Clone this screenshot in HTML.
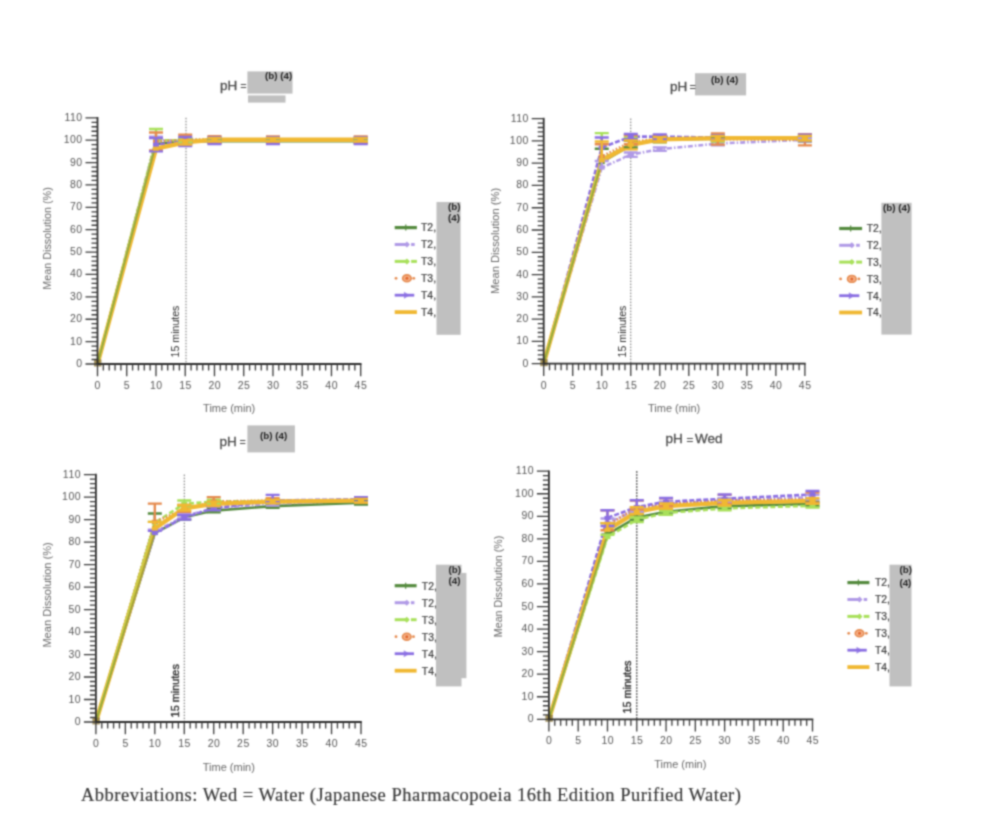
<!DOCTYPE html><html><head><meta charset="utf-8"><title>Dissolution profiles</title><style>
html,body{margin:0;padding:0;background:#fff;}body{width:999px;height:819px;overflow:hidden;position:relative;}
svg{position:absolute;left:0;top:0;display:block;}
</style></head><body>
<svg width="999" height="819" viewBox="0 0 999 819" font-family="'Liberation Sans', Arial, sans-serif">
<defs><filter id="soft" x="0" y="0" width="999" height="819" filterUnits="userSpaceOnUse" color-interpolation-filters="sRGB"><feConvolveMatrix order="5" kernelMatrix="0.00023 0.00332 0.00809 0.00332 0.00023 0.00332 0.04785 0.11640 0.04785 0.00332 0.00809 0.11640 0.28313 0.11640 0.00809 0.00332 0.04785 0.11640 0.04785 0.00332 0.00023 0.00332 0.00809 0.00332 0.00023" edgeMode="duplicate" preserveAlpha="true"/></filter></defs>
<g filter="url(#soft)">
<rect width="999" height="819" fill="#ffffff"/>
<g>
<line x1="186.00" y1="117.80" x2="186.00" y2="364.00" stroke="#6a6a6a" stroke-width="1" stroke-dasharray="1.5,1.5"/>
<polyline points="97.50,364.00 155.99,143.99 185.23,141.08 214.48,141.30 272.97,141.30 360.70,141.30" fill="none" stroke="#548a3e" stroke-width="2.6" stroke-linejoin="round"/>
<polyline points="97.50,364.00 155.99,140.18 185.23,140.63 214.48,140.18 272.97,140.18 360.70,140.18" fill="none" stroke="#b09ae6" stroke-width="2.6" stroke-dasharray="5,2,1.5,2" stroke-linejoin="round"/>
<polyline points="97.50,364.00 155.99,140.18 185.23,140.18 214.48,139.73 272.97,139.73 360.70,139.73" fill="none" stroke="#a8e05a" stroke-width="2.6" stroke-dasharray="5,2.5" stroke-linejoin="round"/>
<polyline points="97.50,364.00 155.99,141.52 185.23,139.73 214.48,139.51 272.97,139.73 360.70,139.73" fill="none" stroke="#e58a4e" stroke-width="2.6" stroke-dasharray="1.5,2" stroke-linejoin="round"/>
<polyline points="97.50,364.00 155.99,144.66 185.23,141.52 214.48,140.63 272.97,140.63 360.70,140.63" fill="none" stroke="#8a6ee2" stroke-width="2.6" stroke-dasharray="5,2" stroke-linejoin="round"/>
<polyline points="97.50,364.00 155.99,148.69 185.23,142.42 214.48,139.73 272.97,139.73 360.70,139.73" fill="none" stroke="#f0b832" stroke-width="4.3" stroke-linejoin="round"/>
<line x1="97.50" y1="364.00" x2="155.99" y2="140.18" stroke="#a8e05a" stroke-width="2.4" opacity="0.45"/>
<line x1="97.50" y1="364.00" x2="155.99" y2="143.99" stroke="#548a3e" stroke-width="1.8" opacity="0.5"/>
<rect x="152.99" y="141.99" width="6" height="4" fill="#548a3e"/>
<path d="M185.23,141.08V138.84M178.23,138.84H192.23M185.23,141.08V143.32M178.23,143.32H192.23" stroke="#548a3e" stroke-width="2.4" fill="none"/>
<rect x="182.23" y="139.08" width="6" height="4" fill="#548a3e"/>
<path d="M214.48,141.30V139.51M207.48,139.51H221.48M214.48,141.30V143.09M207.48,143.09H221.48" stroke="#548a3e" stroke-width="2.4" fill="none"/>
<rect x="211.48" y="139.30" width="6" height="4" fill="#548a3e"/>
<path d="M272.97,141.30V139.51M265.97,139.51H279.97M272.97,141.30V143.09M265.97,143.09H279.97" stroke="#548a3e" stroke-width="2.4" fill="none"/>
<rect x="269.97" y="139.30" width="6" height="4" fill="#548a3e"/>
<path d="M360.70,141.30V139.51M353.70,139.51H367.70M360.70,141.30V143.09M353.70,143.09H367.70" stroke="#548a3e" stroke-width="2.4" fill="none"/>
<rect x="357.70" y="139.30" width="6" height="4" fill="#548a3e"/>
<path d="M155.99,140.18V136.82M148.99,136.82H162.99" stroke="#b09ae6" stroke-width="2.4" fill="none"/>
<rect x="152.99" y="138.18" width="6" height="4" fill="#b09ae6"/>
<path d="M185.23,140.63V138.39M178.23,138.39H192.23M185.23,140.63V142.87M178.23,142.87H192.23" stroke="#b09ae6" stroke-width="2.4" fill="none"/>
<rect x="182.23" y="138.63" width="6" height="4" fill="#b09ae6"/>
<path d="M214.48,140.18V138.39M207.48,138.39H221.48M214.48,140.18V141.97M207.48,141.97H221.48" stroke="#b09ae6" stroke-width="2.4" fill="none"/>
<rect x="211.48" y="138.18" width="6" height="4" fill="#b09ae6"/>
<path d="M272.97,140.18V138.39M265.97,138.39H279.97M272.97,140.18V141.97M265.97,141.97H279.97" stroke="#b09ae6" stroke-width="2.4" fill="none"/>
<rect x="269.97" y="138.18" width="6" height="4" fill="#b09ae6"/>
<path d="M360.70,140.18V138.39M353.70,138.39H367.70M360.70,140.18V141.97M353.70,141.97H367.70" stroke="#b09ae6" stroke-width="2.4" fill="none"/>
<rect x="357.70" y="138.18" width="6" height="4" fill="#b09ae6"/>
<path d="M155.99,140.18V128.99M148.99,128.99H162.99" stroke="#a8e05a" stroke-width="2.4" fill="none"/>
<rect x="152.99" y="138.18" width="6" height="4" fill="#a8e05a"/>
<path d="M185.23,140.18V137.94M178.23,137.94H192.23M185.23,140.18V142.42M178.23,142.42H192.23" stroke="#a8e05a" stroke-width="2.4" fill="none"/>
<rect x="182.23" y="138.18" width="6" height="4" fill="#a8e05a"/>
<path d="M214.48,139.73V137.94M207.48,137.94H221.48M214.48,139.73V141.52M207.48,141.52H221.48" stroke="#a8e05a" stroke-width="2.4" fill="none"/>
<rect x="211.48" y="137.73" width="6" height="4" fill="#a8e05a"/>
<path d="M272.97,139.73V137.94M265.97,137.94H279.97M272.97,139.73V141.52M265.97,141.52H279.97" stroke="#a8e05a" stroke-width="2.4" fill="none"/>
<rect x="269.97" y="137.73" width="6" height="4" fill="#a8e05a"/>
<path d="M360.70,139.73V137.94M353.70,137.94H367.70M360.70,139.73V141.52M353.70,141.52H367.70" stroke="#a8e05a" stroke-width="2.4" fill="none"/>
<rect x="357.70" y="137.73" width="6" height="4" fill="#a8e05a"/>
<path d="M155.99,141.52V132.57M148.99,132.57H162.99M155.99,141.52V150.48M148.99,150.48H162.99" stroke="#e58a4e" stroke-width="2.4" fill="none"/>
<rect x="152.99" y="139.52" width="6" height="4" fill="#e58a4e"/>
<path d="M185.23,139.73V134.81M178.23,134.81H192.23M185.23,139.73V144.66M178.23,144.66H192.23" stroke="#e58a4e" stroke-width="2.4" fill="none"/>
<rect x="182.23" y="137.73" width="6" height="4" fill="#e58a4e"/>
<path d="M214.48,139.51V136.15M207.48,136.15H221.48M214.48,139.51V142.87M207.48,142.87H221.48" stroke="#e58a4e" stroke-width="2.4" fill="none"/>
<rect x="211.48" y="137.51" width="6" height="4" fill="#e58a4e"/>
<path d="M272.97,139.73V136.38M265.97,136.38H279.97M272.97,139.73V143.09M265.97,143.09H279.97" stroke="#e58a4e" stroke-width="2.4" fill="none"/>
<rect x="269.97" y="137.73" width="6" height="4" fill="#e58a4e"/>
<path d="M360.70,139.73V136.38M353.70,136.38H367.70M360.70,139.73V143.09M353.70,143.09H367.70" stroke="#e58a4e" stroke-width="2.4" fill="none"/>
<rect x="357.70" y="137.73" width="6" height="4" fill="#e58a4e"/>
<path d="M155.99,144.66V137.94M148.99,137.94H162.99M155.99,144.66V151.37M148.99,151.37H162.99" stroke="#8a6ee2" stroke-width="2.4" fill="none"/>
<rect x="152.99" y="142.66" width="6" height="4" fill="#8a6ee2"/>
<path d="M185.23,141.52V137.05M178.23,137.05H192.23M185.23,141.52V146.00M178.23,146.00H192.23" stroke="#8a6ee2" stroke-width="2.4" fill="none"/>
<rect x="182.23" y="139.52" width="6" height="4" fill="#8a6ee2"/>
<path d="M214.48,140.63V137.27M207.48,137.27H221.48M214.48,140.63V143.99M207.48,143.99H221.48" stroke="#8a6ee2" stroke-width="2.4" fill="none"/>
<rect x="211.48" y="138.63" width="6" height="4" fill="#8a6ee2"/>
<path d="M272.97,140.63V137.27M265.97,137.27H279.97M272.97,140.63V143.99M265.97,143.99H279.97" stroke="#8a6ee2" stroke-width="2.4" fill="none"/>
<rect x="269.97" y="138.63" width="6" height="4" fill="#8a6ee2"/>
<path d="M360.70,140.63V137.27M353.70,137.27H367.70M360.70,140.63V143.99M353.70,143.99H367.70" stroke="#8a6ee2" stroke-width="2.4" fill="none"/>
<rect x="357.70" y="138.63" width="6" height="4" fill="#8a6ee2"/>
<rect x="152.99" y="146.69" width="6" height="4" fill="#f0b832"/>
<path d="M185.23,142.42V140.18M178.23,140.18H192.23M185.23,142.42V144.66M178.23,144.66H192.23" stroke="#f0b832" stroke-width="2.4" fill="none"/>
<rect x="182.23" y="140.42" width="6" height="4" fill="#f0b832"/>
<path d="M214.48,139.73V137.94M207.48,137.94H221.48M214.48,139.73V141.52M207.48,141.52H221.48" stroke="#f0b832" stroke-width="2.4" fill="none"/>
<rect x="211.48" y="137.73" width="6" height="4" fill="#f0b832"/>
<path d="M272.97,139.73V137.94M265.97,137.94H279.97M272.97,139.73V141.52M265.97,141.52H279.97" stroke="#f0b832" stroke-width="2.4" fill="none"/>
<rect x="269.97" y="137.73" width="6" height="4" fill="#f0b832"/>
<path d="M360.70,139.73V137.94M353.70,137.94H367.70M360.70,139.73V141.52M353.70,141.52H367.70" stroke="#f0b832" stroke-width="2.4" fill="none"/>
<rect x="357.70" y="137.73" width="6" height="4" fill="#f0b832"/>
<rect x="94.00" y="359.50" width="7.5" height="7" fill="#8a7436" opacity="0.75"/>
<line x1="97.50" y1="117.00" x2="97.50" y2="364.80" stroke="#2b2b2b" stroke-width="1.8"/>
<line x1="96.70" y1="364.00" x2="361.50" y2="364.00" stroke="#2b2b2b" stroke-width="1.8"/>
<path d="M85.50,364.00H97.50M91.50,359.52H97.50M91.50,355.05H97.50M91.50,350.57H97.50M91.50,346.09H97.50M85.50,341.62H97.50M91.50,337.14H97.50M91.50,332.67H97.50M91.50,328.19H97.50M91.50,323.71H97.50M85.50,319.24H97.50M91.50,314.76H97.50M91.50,310.28H97.50M91.50,305.81H97.50M91.50,301.33H97.50M85.50,296.85H97.50M91.50,292.38H97.50M91.50,287.90H97.50M91.50,283.43H97.50M91.50,278.95H97.50M85.50,274.47H97.50M91.50,270.00H97.50M91.50,265.52H97.50M91.50,261.04H97.50M91.50,256.57H97.50M85.50,252.09H97.50M91.50,247.61H97.50M91.50,243.14H97.50M91.50,238.66H97.50M91.50,234.19H97.50M85.50,229.71H97.50M91.50,225.23H97.50M91.50,220.76H97.50M91.50,216.28H97.50M91.50,211.80H97.50M85.50,207.33H97.50M91.50,202.85H97.50M91.50,198.37H97.50M91.50,193.90H97.50M91.50,189.42H97.50M85.50,184.95H97.50M91.50,180.47H97.50M91.50,175.99H97.50M91.50,171.52H97.50M91.50,167.04H97.50M85.50,162.56H97.50M91.50,158.09H97.50M91.50,153.61H97.50M91.50,149.13H97.50M91.50,144.66H97.50M85.50,140.18H97.50M91.50,135.71H97.50M91.50,131.23H97.50M91.50,126.75H97.50M91.50,122.28H97.50M85.50,117.80H97.50M97.50,364.00V376.30M103.35,364.00V370.50M109.20,364.00V370.50M115.05,364.00V370.50M120.90,364.00V370.50M126.74,364.00V376.30M132.59,364.00V370.50M138.44,364.00V370.50M144.29,364.00V370.50M150.14,364.00V370.50M155.99,364.00V376.30M161.84,364.00V370.50M167.69,364.00V370.50M173.54,364.00V370.50M179.38,364.00V370.50M185.23,364.00V376.30M191.08,364.00V370.50M196.93,364.00V370.50M202.78,364.00V370.50M208.63,364.00V370.50M214.48,364.00V376.30M220.33,364.00V370.50M226.18,364.00V370.50M232.02,364.00V370.50M237.87,364.00V370.50M243.72,364.00V376.30M249.57,364.00V370.50M255.42,364.00V370.50M261.27,364.00V370.50M267.12,364.00V370.50M272.97,364.00V376.30M278.82,364.00V370.50M284.66,364.00V370.50M290.51,364.00V370.50M296.36,364.00V370.50M302.21,364.00V376.30M308.06,364.00V370.50M313.91,364.00V370.50M319.76,364.00V370.50M325.61,364.00V370.50M331.46,364.00V376.30M337.30,364.00V370.50M343.15,364.00V370.50M349.00,364.00V370.50M354.85,364.00V370.50M360.70,364.00V376.30" stroke="#3a3a3a" stroke-width="1.3" fill="none"/>
<text x="82.70" y="367.00" text-anchor="end" font-size="10.5" letter-spacing="0.5" fill="#555555">0</text>
<text x="82.70" y="344.62" text-anchor="end" font-size="10.5" letter-spacing="0.5" fill="#555555">10</text>
<text x="82.70" y="322.24" text-anchor="end" font-size="10.5" letter-spacing="0.5" fill="#555555">20</text>
<text x="82.70" y="299.85" text-anchor="end" font-size="10.5" letter-spacing="0.5" fill="#555555">30</text>
<text x="82.70" y="277.47" text-anchor="end" font-size="10.5" letter-spacing="0.5" fill="#555555">40</text>
<text x="82.70" y="255.09" text-anchor="end" font-size="10.5" letter-spacing="0.5" fill="#555555">50</text>
<text x="82.70" y="232.71" text-anchor="end" font-size="10.5" letter-spacing="0.5" fill="#555555">60</text>
<text x="82.70" y="210.33" text-anchor="end" font-size="10.5" letter-spacing="0.5" fill="#555555">70</text>
<text x="82.70" y="187.95" text-anchor="end" font-size="10.5" letter-spacing="0.5" fill="#555555">80</text>
<text x="82.70" y="165.56" text-anchor="end" font-size="10.5" letter-spacing="0.5" fill="#555555">90</text>
<text x="82.70" y="143.18" text-anchor="end" font-size="10.5" letter-spacing="0.5" fill="#555555">100</text>
<text x="82.70" y="120.80" text-anchor="end" font-size="10.5" letter-spacing="0.5" fill="#555555">110</text>
<text x="97.75" y="389.00" text-anchor="middle" font-size="10.5" letter-spacing="0.5" fill="#555555">0</text>
<text x="126.99" y="389.00" text-anchor="middle" font-size="10.5" letter-spacing="0.5" fill="#555555">5</text>
<text x="156.24" y="389.00" text-anchor="middle" font-size="10.5" letter-spacing="0.5" fill="#555555">10</text>
<text x="185.48" y="389.00" text-anchor="middle" font-size="10.5" letter-spacing="0.5" fill="#555555">15</text>
<text x="214.73" y="389.00" text-anchor="middle" font-size="10.5" letter-spacing="0.5" fill="#555555">20</text>
<text x="243.97" y="389.00" text-anchor="middle" font-size="10.5" letter-spacing="0.5" fill="#555555">25</text>
<text x="273.22" y="389.00" text-anchor="middle" font-size="10.5" letter-spacing="0.5" fill="#555555">30</text>
<text x="302.46" y="389.00" text-anchor="middle" font-size="10.5" letter-spacing="0.5" fill="#555555">35</text>
<text x="331.71" y="389.00" text-anchor="middle" font-size="10.5" letter-spacing="0.5" fill="#555555">40</text>
<text x="360.95" y="389.00" text-anchor="middle" font-size="10.5" letter-spacing="0.5" fill="#555555">45</text>
<text transform="translate(50.70,238.50) rotate(-90)" text-anchor="middle" font-size="10.8" fill="#686868">Mean Dissolution (%)</text>
<text x="229.20" y="412.20" text-anchor="middle" font-size="11" fill="#686868">Time (min)</text>
<text transform="translate(179.40,357.40) rotate(-90)" font-size="10.6" fill="#2e2e2e">15 minutes</text>
<line x1="394.70" y1="227.60" x2="416.90" y2="227.60" stroke="#548a3e" stroke-width="3.2"/>
<line x1="405.80" y1="224.60" x2="405.80" y2="230.60" stroke="#548a3e" stroke-width="1.2"/>
<text x="421.00" y="231.40" font-size="10.4" fill="#3c3c3c" stroke="#3c3c3c" stroke-width="0.2">T2,</text>
<line x1="394.70" y1="244.50" x2="408.46" y2="244.50" stroke="#b09ae6" stroke-width="3"/>
<path d="M403.91,244.50L406.91,241.50L409.91,244.50L406.91,247.50Z" fill="#b09ae6"/>
<line x1="411.13" y1="244.50" x2="414.68" y2="244.50" stroke="#b09ae6" stroke-width="3"/>
<text x="421.00" y="248.30" font-size="10.4" fill="#3c3c3c" stroke="#3c3c3c" stroke-width="0.2">T2,</text>
<line x1="394.70" y1="261.40" x2="408.46" y2="261.40" stroke="#a8e05a" stroke-width="3"/>
<path d="M403.91,261.40L406.91,258.40L409.91,261.40L406.91,264.40Z" fill="#a8e05a"/>
<line x1="411.13" y1="261.40" x2="416.90" y2="261.40" stroke="#a8e05a" stroke-width="3"/>
<text x="421.00" y="265.20" font-size="10.4" fill="#3c3c3c" stroke="#3c3c3c" stroke-width="0.2">T3,</text>
<circle cx="396.03" cy="278.30" r="1.4" fill="#e58a4e"/>
<circle cx="413.79" cy="278.30" r="1.4" fill="#e58a4e"/>
<ellipse cx="406.91" cy="278.30" rx="4.3" ry="3.4" fill="#f6b088" stroke="#e58a4e" stroke-width="1.6"/>
<circle cx="406.91" cy="278.30" r="1.5" fill="#e0652a"/>
<text x="421.00" y="282.10" font-size="10.4" fill="#3c3c3c" stroke="#3c3c3c" stroke-width="0.2">T3,</text>
<line x1="394.70" y1="295.20" x2="414.24" y2="295.20" stroke="#8a6ee2" stroke-width="2.8"/>
<path d="M403.91,291.70L409.91,295.20L403.91,298.70Z" fill="#8a6ee2" opacity="0.8"/>
<text x="421.00" y="299.00" font-size="10.4" fill="#3c3c3c" stroke="#3c3c3c" stroke-width="0.2">T4,</text>
<line x1="394.70" y1="312.10" x2="416.90" y2="312.10" stroke="#f0b832" stroke-width="3.8"/>
<text x="421.00" y="315.90" font-size="10.4" fill="#3c3c3c" stroke="#3c3c3c" stroke-width="0.2">T4,</text>
</g>
<g>
<line x1="630.77" y1="118.60" x2="630.77" y2="363.70" stroke="#6a6a6a" stroke-width="1" stroke-dasharray="1.5,1.5"/>
<polyline points="543.70,363.70 601.74,162.05 630.77,145.34 659.79,139.54 717.83,138.65 804.90,138.65" fill="none" stroke="#548a3e" stroke-width="2.6" stroke-linejoin="round"/>
<polyline points="543.70,363.70 601.74,167.62 630.77,154.70 659.79,149.13 717.83,143.56 804.90,139.77" fill="none" stroke="#b09ae6" stroke-width="2.6" stroke-dasharray="5,2,1.5,2" stroke-linejoin="round"/>
<polyline points="543.70,363.70 601.74,158.71 630.77,144.22 659.79,139.10 717.83,138.21 804.90,138.21" fill="none" stroke="#a8e05a" stroke-width="2.6" stroke-dasharray="5,2.5" stroke-linejoin="round"/>
<polyline points="543.70,363.70 601.74,156.48 630.77,142.00 659.79,138.65 717.83,139.10 804.90,139.77" fill="none" stroke="#e58a4e" stroke-width="2.6" stroke-dasharray="1.5,2" stroke-linejoin="round"/>
<polyline points="543.70,363.70 601.74,147.57 630.77,136.65 659.79,136.65 717.83,137.54 804.90,137.99" fill="none" stroke="#8a6ee2" stroke-width="2.6" stroke-dasharray="5,2" stroke-linejoin="round"/>
<polyline points="543.70,363.70 601.74,160.49 630.77,144.89 659.79,139.32 717.83,138.21 804.90,138.21" fill="none" stroke="#f0b832" stroke-width="4.3" stroke-linejoin="round"/>
<line x1="543.70" y1="363.70" x2="601.74" y2="158.71" stroke="#a8e05a" stroke-width="2.4" opacity="0.45"/>
<line x1="543.70" y1="363.70" x2="601.74" y2="162.05" stroke="#548a3e" stroke-width="1.8" opacity="0.5"/>
<path d="M601.74,162.05V148.68M594.74,148.68H608.74" stroke="#548a3e" stroke-width="2.4" fill="none"/>
<rect x="598.74" y="160.05" width="6" height="4" fill="#548a3e"/>
<path d="M630.77,145.34V140.88M623.77,140.88H637.77M630.77,145.34V147.57M623.77,147.57H637.77" stroke="#548a3e" stroke-width="2.4" fill="none"/>
<rect x="627.77" y="143.34" width="6" height="4" fill="#548a3e"/>
<path d="M659.79,139.54V137.32M652.79,137.32H666.79M659.79,139.54V141.77M652.79,141.77H666.79" stroke="#548a3e" stroke-width="2.4" fill="none"/>
<rect x="656.79" y="137.54" width="6" height="4" fill="#548a3e"/>
<path d="M717.83,138.65V136.43M710.83,136.43H724.83M717.83,138.65V140.88M710.83,140.88H724.83" stroke="#548a3e" stroke-width="2.4" fill="none"/>
<rect x="714.83" y="136.65" width="6" height="4" fill="#548a3e"/>
<path d="M804.90,138.65V136.43M797.90,136.43H811.90M804.90,138.65V140.88M797.90,140.88H811.90" stroke="#548a3e" stroke-width="2.4" fill="none"/>
<rect x="801.90" y="136.65" width="6" height="4" fill="#548a3e"/>
<path d="M601.74,167.62V160.94M594.74,160.94H608.74" stroke="#b09ae6" stroke-width="2.4" fill="none"/>
<rect x="598.74" y="165.62" width="6" height="4" fill="#b09ae6"/>
<path d="M630.77,154.70V152.47M623.77,152.47H637.77M630.77,154.70V156.92M623.77,156.92H637.77" stroke="#b09ae6" stroke-width="2.4" fill="none"/>
<rect x="627.77" y="152.70" width="6" height="4" fill="#b09ae6"/>
<path d="M659.79,149.13V147.34M652.79,147.34H666.79M659.79,149.13V150.91M652.79,150.91H666.79" stroke="#b09ae6" stroke-width="2.4" fill="none"/>
<rect x="656.79" y="147.13" width="6" height="4" fill="#b09ae6"/>
<path d="M717.83,143.56V141.77M710.83,141.77H724.83M717.83,143.56V145.34M710.83,145.34H724.83" stroke="#b09ae6" stroke-width="2.4" fill="none"/>
<rect x="714.83" y="141.56" width="6" height="4" fill="#b09ae6"/>
<path d="M804.90,139.77V137.99M797.90,137.99H811.90M804.90,139.77V141.55M797.90,141.55H811.90" stroke="#b09ae6" stroke-width="2.4" fill="none"/>
<rect x="801.90" y="137.77" width="6" height="4" fill="#b09ae6"/>
<path d="M601.74,158.71V133.08M594.74,133.08H608.74" stroke="#a8e05a" stroke-width="2.4" fill="none"/>
<rect x="598.74" y="156.71" width="6" height="4" fill="#a8e05a"/>
<path d="M630.77,144.22V137.54M623.77,137.54H637.77" stroke="#a8e05a" stroke-width="2.4" fill="none"/>
<rect x="627.77" y="142.22" width="6" height="4" fill="#a8e05a"/>
<path d="M659.79,139.10V135.76M652.79,135.76H666.79M659.79,139.10V142.44M652.79,142.44H666.79" stroke="#a8e05a" stroke-width="2.4" fill="none"/>
<rect x="656.79" y="137.10" width="6" height="4" fill="#a8e05a"/>
<path d="M717.83,138.21V134.87M710.83,134.87H724.83M717.83,138.21V141.55M710.83,141.55H724.83" stroke="#a8e05a" stroke-width="2.4" fill="none"/>
<rect x="714.83" y="136.21" width="6" height="4" fill="#a8e05a"/>
<path d="M804.90,138.21V134.87M797.90,134.87H811.90M804.90,138.21V141.55M797.90,141.55H811.90" stroke="#a8e05a" stroke-width="2.4" fill="none"/>
<rect x="801.90" y="136.21" width="6" height="4" fill="#a8e05a"/>
<path d="M601.74,156.48V144.22M594.74,144.22H608.74" stroke="#e58a4e" stroke-width="2.4" fill="none"/>
<rect x="598.74" y="154.48" width="6" height="4" fill="#e58a4e"/>
<path d="M630.77,142.00V135.31M623.77,135.31H637.77M630.77,142.00V144.22M623.77,144.22H637.77" stroke="#e58a4e" stroke-width="2.4" fill="none"/>
<rect x="627.77" y="140.00" width="6" height="4" fill="#e58a4e"/>
<path d="M659.79,138.65V135.31M652.79,135.31H666.79M659.79,138.65V142.00M652.79,142.00H666.79" stroke="#e58a4e" stroke-width="2.4" fill="none"/>
<rect x="656.79" y="136.65" width="6" height="4" fill="#e58a4e"/>
<path d="M717.83,139.10V133.53M710.83,133.53H724.83M717.83,139.10V144.67M710.83,144.67H724.83" stroke="#e58a4e" stroke-width="2.4" fill="none"/>
<rect x="714.83" y="137.10" width="6" height="4" fill="#e58a4e"/>
<path d="M804.90,139.77V134.20M797.90,134.20H811.90M804.90,139.77V145.34M797.90,145.34H811.90" stroke="#e58a4e" stroke-width="2.4" fill="none"/>
<rect x="801.90" y="137.77" width="6" height="4" fill="#e58a4e"/>
<path d="M601.74,147.57V137.54M594.74,137.54H608.74" stroke="#8a6ee2" stroke-width="2.4" fill="none"/>
<rect x="598.74" y="145.57" width="6" height="4" fill="#8a6ee2"/>
<path d="M630.77,136.65V133.97M623.77,133.97H637.77M630.77,136.65V139.32M623.77,139.32H637.77" stroke="#8a6ee2" stroke-width="2.4" fill="none"/>
<rect x="627.77" y="134.65" width="6" height="4" fill="#8a6ee2"/>
<path d="M659.79,136.65V134.42M652.79,134.42H666.79M659.79,136.65V138.88M652.79,138.88H666.79" stroke="#8a6ee2" stroke-width="2.4" fill="none"/>
<rect x="656.79" y="134.65" width="6" height="4" fill="#8a6ee2"/>
<path d="M717.83,137.54V135.31M710.83,135.31H724.83M717.83,137.54V139.77M710.83,139.77H724.83" stroke="#8a6ee2" stroke-width="2.4" fill="none"/>
<rect x="714.83" y="135.54" width="6" height="4" fill="#8a6ee2"/>
<path d="M804.90,137.99V134.64M797.90,134.64H811.90M804.90,137.99V141.33M797.90,141.33H811.90" stroke="#8a6ee2" stroke-width="2.4" fill="none"/>
<rect x="801.90" y="135.99" width="6" height="4" fill="#8a6ee2"/>
<path d="M601.74,160.49V141.55M594.74,141.55H608.74" stroke="#f0b832" stroke-width="2.4" fill="none"/>
<rect x="598.74" y="158.49" width="6" height="4" fill="#f0b832"/>
<path d="M630.77,144.89V140.44M623.77,140.44H637.77M630.77,144.89V149.35M623.77,149.35H637.77" stroke="#f0b832" stroke-width="2.4" fill="none"/>
<rect x="627.77" y="142.89" width="6" height="4" fill="#f0b832"/>
<path d="M659.79,139.32V137.09M652.79,137.09H666.79M659.79,139.32V141.55M652.79,141.55H666.79" stroke="#f0b832" stroke-width="2.4" fill="none"/>
<rect x="656.79" y="137.32" width="6" height="4" fill="#f0b832"/>
<path d="M717.83,138.21V135.98M710.83,135.98H724.83M717.83,138.21V140.44M710.83,140.44H724.83" stroke="#f0b832" stroke-width="2.4" fill="none"/>
<rect x="714.83" y="136.21" width="6" height="4" fill="#f0b832"/>
<path d="M804.90,138.21V135.98M797.90,135.98H811.90M804.90,138.21V140.44M797.90,140.44H811.90" stroke="#f0b832" stroke-width="2.4" fill="none"/>
<rect x="801.90" y="136.21" width="6" height="4" fill="#f0b832"/>
<rect x="540.20" y="359.20" width="7.5" height="7" fill="#8a7436" opacity="0.75"/>
<line x1="543.70" y1="117.80" x2="543.70" y2="364.50" stroke="#2b2b2b" stroke-width="1.8"/>
<line x1="542.90" y1="363.70" x2="805.70" y2="363.70" stroke="#2b2b2b" stroke-width="1.8"/>
<path d="M531.70,363.70H543.70M537.70,359.24H543.70M537.70,354.79H543.70M537.70,350.33H543.70M537.70,345.87H543.70M531.70,341.42H543.70M537.70,336.96H543.70M537.70,332.51H543.70M537.70,328.05H543.70M537.70,323.59H543.70M531.70,319.14H543.70M537.70,314.68H543.70M537.70,310.22H543.70M537.70,305.77H543.70M537.70,301.31H543.70M531.70,296.85H543.70M537.70,292.40H543.70M537.70,287.94H543.70M537.70,283.49H543.70M537.70,279.03H543.70M531.70,274.57H543.70M537.70,270.12H543.70M537.70,265.66H543.70M537.70,261.20H543.70M537.70,256.75H543.70M531.70,252.29H543.70M537.70,247.83H543.70M537.70,243.38H543.70M537.70,238.92H543.70M537.70,234.47H543.70M531.70,230.01H543.70M537.70,225.55H543.70M537.70,221.10H543.70M537.70,216.64H543.70M537.70,212.18H543.70M531.70,207.73H543.70M537.70,203.27H543.70M537.70,198.81H543.70M537.70,194.36H543.70M537.70,189.90H543.70M531.70,185.45H543.70M537.70,180.99H543.70M537.70,176.53H543.70M537.70,172.08H543.70M537.70,167.62H543.70M531.70,163.16H543.70M537.70,158.71H543.70M537.70,154.25H543.70M537.70,149.79H543.70M537.70,145.34H543.70M531.70,140.88H543.70M537.70,136.43H543.70M537.70,131.97H543.70M537.70,127.51H543.70M537.70,123.06H543.70M531.70,118.60H543.70M543.70,363.70V376.00M549.50,363.70V370.20M555.31,363.70V370.20M561.11,363.70V370.20M566.92,363.70V370.20M572.72,363.70V376.00M578.53,363.70V370.20M584.33,363.70V370.20M590.14,363.70V370.20M595.94,363.70V370.20M601.74,363.70V376.00M607.55,363.70V370.20M613.35,363.70V370.20M619.16,363.70V370.20M624.96,363.70V370.20M630.77,363.70V376.00M636.57,363.70V370.20M642.38,363.70V370.20M648.18,363.70V370.20M653.98,363.70V370.20M659.79,363.70V376.00M665.59,363.70V370.20M671.40,363.70V370.20M677.20,363.70V370.20M683.01,363.70V370.20M688.81,363.70V376.00M694.62,363.70V370.20M700.42,363.70V370.20M706.22,363.70V370.20M712.03,363.70V370.20M717.83,363.70V376.00M723.64,363.70V370.20M729.44,363.70V370.20M735.25,363.70V370.20M741.05,363.70V370.20M746.86,363.70V376.00M752.66,363.70V370.20M758.46,363.70V370.20M764.27,363.70V370.20M770.07,363.70V370.20M775.88,363.70V376.00M781.68,363.70V370.20M787.49,363.70V370.20M793.29,363.70V370.20M799.10,363.70V370.20M804.90,363.70V376.00" stroke="#3a3a3a" stroke-width="1.3" fill="none"/>
<text x="528.90" y="366.70" text-anchor="end" font-size="10.5" letter-spacing="0.5" fill="#555555">0</text>
<text x="528.90" y="344.42" text-anchor="end" font-size="10.5" letter-spacing="0.5" fill="#555555">10</text>
<text x="528.90" y="322.14" text-anchor="end" font-size="10.5" letter-spacing="0.5" fill="#555555">20</text>
<text x="528.90" y="299.85" text-anchor="end" font-size="10.5" letter-spacing="0.5" fill="#555555">30</text>
<text x="528.90" y="277.57" text-anchor="end" font-size="10.5" letter-spacing="0.5" fill="#555555">40</text>
<text x="528.90" y="255.29" text-anchor="end" font-size="10.5" letter-spacing="0.5" fill="#555555">50</text>
<text x="528.90" y="233.01" text-anchor="end" font-size="10.5" letter-spacing="0.5" fill="#555555">60</text>
<text x="528.90" y="210.73" text-anchor="end" font-size="10.5" letter-spacing="0.5" fill="#555555">70</text>
<text x="528.90" y="188.45" text-anchor="end" font-size="10.5" letter-spacing="0.5" fill="#555555">80</text>
<text x="528.90" y="166.16" text-anchor="end" font-size="10.5" letter-spacing="0.5" fill="#555555">90</text>
<text x="528.90" y="143.88" text-anchor="end" font-size="10.5" letter-spacing="0.5" fill="#555555">100</text>
<text x="528.90" y="121.60" text-anchor="end" font-size="10.5" letter-spacing="0.5" fill="#555555">110</text>
<text x="543.95" y="388.70" text-anchor="middle" font-size="10.5" letter-spacing="0.5" fill="#555555">0</text>
<text x="572.97" y="388.70" text-anchor="middle" font-size="10.5" letter-spacing="0.5" fill="#555555">5</text>
<text x="601.99" y="388.70" text-anchor="middle" font-size="10.5" letter-spacing="0.5" fill="#555555">10</text>
<text x="631.02" y="388.70" text-anchor="middle" font-size="10.5" letter-spacing="0.5" fill="#555555">15</text>
<text x="660.04" y="388.70" text-anchor="middle" font-size="10.5" letter-spacing="0.5" fill="#555555">20</text>
<text x="689.06" y="388.70" text-anchor="middle" font-size="10.5" letter-spacing="0.5" fill="#555555">25</text>
<text x="718.08" y="388.70" text-anchor="middle" font-size="10.5" letter-spacing="0.5" fill="#555555">30</text>
<text x="747.11" y="388.70" text-anchor="middle" font-size="10.5" letter-spacing="0.5" fill="#555555">35</text>
<text x="776.13" y="388.70" text-anchor="middle" font-size="10.5" letter-spacing="0.5" fill="#555555">40</text>
<text x="805.15" y="388.70" text-anchor="middle" font-size="10.5" letter-spacing="0.5" fill="#555555">45</text>
<text transform="translate(498.60,240.90) rotate(-90)" text-anchor="middle" font-size="11.2" fill="#686868">Mean Dissolution (%)</text>
<text x="674.10" y="412.40" text-anchor="middle" font-size="11" fill="#686868">Time (min)</text>
<text transform="translate(625.50,357.40) rotate(-90)" font-size="10.6" fill="#2e2e2e">15 minutes</text>
<line x1="839.20" y1="228.50" x2="862.10" y2="228.50" stroke="#548a3e" stroke-width="3.2"/>
<line x1="850.65" y1="225.50" x2="850.65" y2="231.50" stroke="#548a3e" stroke-width="1.2"/>
<text x="866.70" y="232.30" font-size="10.4" fill="#3c3c3c" stroke="#3c3c3c" stroke-width="0.2">T2,</text>
<line x1="839.20" y1="245.30" x2="853.40" y2="245.30" stroke="#b09ae6" stroke-width="3"/>
<path d="M848.80,245.30L851.80,242.30L854.80,245.30L851.80,248.30Z" fill="#b09ae6"/>
<line x1="856.15" y1="245.30" x2="859.81" y2="245.30" stroke="#b09ae6" stroke-width="3"/>
<text x="866.70" y="249.10" font-size="10.4" fill="#3c3c3c" stroke="#3c3c3c" stroke-width="0.2">T2,</text>
<line x1="839.20" y1="262.10" x2="853.40" y2="262.10" stroke="#a8e05a" stroke-width="3"/>
<path d="M848.80,262.10L851.80,259.10L854.80,262.10L851.80,265.10Z" fill="#a8e05a"/>
<line x1="856.15" y1="262.10" x2="862.10" y2="262.10" stroke="#a8e05a" stroke-width="3"/>
<text x="866.70" y="265.90" font-size="10.4" fill="#3c3c3c" stroke="#3c3c3c" stroke-width="0.2">T3,</text>
<circle cx="840.57" cy="278.90" r="1.4" fill="#e58a4e"/>
<circle cx="858.89" cy="278.90" r="1.4" fill="#e58a4e"/>
<ellipse cx="851.80" cy="278.90" rx="4.3" ry="3.4" fill="#f6b088" stroke="#e58a4e" stroke-width="1.6"/>
<circle cx="851.80" cy="278.90" r="1.5" fill="#e0652a"/>
<text x="866.70" y="282.70" font-size="10.4" fill="#3c3c3c" stroke="#3c3c3c" stroke-width="0.2">T3,</text>
<line x1="839.20" y1="295.70" x2="859.35" y2="295.70" stroke="#8a6ee2" stroke-width="2.8"/>
<path d="M848.80,292.20L854.80,295.70L848.80,299.20Z" fill="#8a6ee2" opacity="0.8"/>
<text x="866.70" y="299.50" font-size="10.4" fill="#3c3c3c" stroke="#3c3c3c" stroke-width="0.2">T4,</text>
<line x1="839.20" y1="312.50" x2="862.10" y2="312.50" stroke="#f0b832" stroke-width="3.8"/>
<text x="866.70" y="316.30" font-size="10.4" fill="#3c3c3c" stroke="#3c3c3c" stroke-width="0.2">T4,</text>
</g>
<g>
<line x1="184.27" y1="474.60" x2="184.27" y2="722.00" stroke="#6a6a6a" stroke-width="1" stroke-dasharray="1.5,1.5"/>
<polyline points="95.90,722.00 154.81,533.08 184.27,517.33 213.72,510.59 272.63,506.09 361.00,502.71" fill="none" stroke="#548a3e" stroke-width="2.6" stroke-linejoin="round"/>
<polyline points="95.90,722.00 154.81,531.95 184.27,516.21 213.72,508.34 272.63,503.84 361.00,500.46" fill="none" stroke="#b09ae6" stroke-width="2.6" stroke-dasharray="5,2,1.5,2" stroke-linejoin="round"/>
<polyline points="95.90,722.00 154.81,522.73 184.27,503.84 213.72,501.59 272.63,500.91 361.00,500.46" fill="none" stroke="#a8e05a" stroke-width="2.6" stroke-dasharray="5,2.5" stroke-linejoin="round"/>
<polyline points="95.90,722.00 154.81,521.83 184.27,509.46 213.72,501.59 272.63,500.46 361.00,500.46" fill="none" stroke="#e58a4e" stroke-width="2.6" stroke-dasharray="1.5,2" stroke-linejoin="round"/>
<polyline points="95.90,722.00 154.81,533.08 184.27,517.33 213.72,508.34 272.63,500.46 361.00,499.34" fill="none" stroke="#8a6ee2" stroke-width="2.6" stroke-dasharray="5,2" stroke-linejoin="round"/>
<polyline points="95.90,722.00 154.81,528.58 184.27,508.34 213.72,503.84 272.63,501.59 361.00,500.69" fill="none" stroke="#f0b832" stroke-width="4.3" stroke-linejoin="round"/>
<line x1="95.90" y1="722.00" x2="154.81" y2="522.73" stroke="#a8e05a" stroke-width="2.4" opacity="0.45"/>
<line x1="95.90" y1="722.00" x2="154.81" y2="533.08" stroke="#548a3e" stroke-width="1.8" opacity="0.5"/>
<path d="M154.81,533.08V513.51M147.81,513.51H161.81" stroke="#548a3e" stroke-width="2.4" fill="none"/>
<rect x="151.81" y="531.08" width="6" height="4" fill="#548a3e"/>
<path d="M184.27,517.33V515.08M177.27,515.08H191.27M184.27,517.33V519.58M177.27,519.58H191.27" stroke="#548a3e" stroke-width="2.4" fill="none"/>
<rect x="181.27" y="515.33" width="6" height="4" fill="#548a3e"/>
<path d="M213.72,510.59V508.79M206.72,508.79H220.72M213.72,510.59V512.38M206.72,512.38H220.72" stroke="#548a3e" stroke-width="2.4" fill="none"/>
<rect x="210.72" y="508.59" width="6" height="4" fill="#548a3e"/>
<path d="M272.63,506.09V504.29M265.63,504.29H279.63M272.63,506.09V507.89M265.63,507.89H279.63" stroke="#548a3e" stroke-width="2.4" fill="none"/>
<rect x="269.63" y="504.09" width="6" height="4" fill="#548a3e"/>
<path d="M361.00,502.71V500.91M354.00,500.91H368.00M361.00,502.71V504.51M354.00,504.51H368.00" stroke="#548a3e" stroke-width="2.4" fill="none"/>
<rect x="358.00" y="500.71" width="6" height="4" fill="#548a3e"/>
<path d="M154.81,531.95V529.70M147.81,529.70H161.81" stroke="#b09ae6" stroke-width="2.4" fill="none"/>
<rect x="151.81" y="529.95" width="6" height="4" fill="#b09ae6"/>
<path d="M184.27,516.21V513.96M177.27,513.96H191.27M184.27,516.21V518.46M177.27,518.46H191.27" stroke="#b09ae6" stroke-width="2.4" fill="none"/>
<rect x="181.27" y="514.21" width="6" height="4" fill="#b09ae6"/>
<path d="M213.72,508.34V506.54M206.72,506.54H220.72M213.72,508.34V510.14M206.72,510.14H220.72" stroke="#b09ae6" stroke-width="2.4" fill="none"/>
<rect x="210.72" y="506.34" width="6" height="4" fill="#b09ae6"/>
<path d="M272.63,503.84V502.04M265.63,502.04H279.63M272.63,503.84V505.64M265.63,505.64H279.63" stroke="#b09ae6" stroke-width="2.4" fill="none"/>
<rect x="269.63" y="501.84" width="6" height="4" fill="#b09ae6"/>
<path d="M361.00,500.46V498.67M354.00,498.67H368.00M361.00,500.46V502.26M354.00,502.26H368.00" stroke="#b09ae6" stroke-width="2.4" fill="none"/>
<rect x="358.00" y="498.46" width="6" height="4" fill="#b09ae6"/>
<path d="M154.81,522.73V521.83M147.81,521.83H161.81" stroke="#a8e05a" stroke-width="2.4" fill="none"/>
<rect x="151.81" y="520.73" width="6" height="4" fill="#a8e05a"/>
<path d="M184.27,503.84V500.46M177.27,500.46H191.27M184.27,503.84V506.09M177.27,506.09H191.27" stroke="#a8e05a" stroke-width="2.4" fill="none"/>
<rect x="181.27" y="501.84" width="6" height="4" fill="#a8e05a"/>
<path d="M213.72,501.59V499.79M206.72,499.79H220.72M213.72,501.59V503.39M206.72,503.39H220.72" stroke="#a8e05a" stroke-width="2.4" fill="none"/>
<rect x="210.72" y="499.59" width="6" height="4" fill="#a8e05a"/>
<path d="M272.63,500.91V499.12M265.63,499.12H279.63M272.63,500.91V502.71M265.63,502.71H279.63" stroke="#a8e05a" stroke-width="2.4" fill="none"/>
<rect x="269.63" y="498.91" width="6" height="4" fill="#a8e05a"/>
<path d="M361.00,500.46V498.67M354.00,498.67H368.00M361.00,500.46V502.26M354.00,502.26H368.00" stroke="#a8e05a" stroke-width="2.4" fill="none"/>
<rect x="358.00" y="498.46" width="6" height="4" fill="#a8e05a"/>
<path d="M154.81,521.83V503.61M147.81,503.61H161.81" stroke="#e58a4e" stroke-width="2.4" fill="none"/>
<rect x="151.81" y="519.83" width="6" height="4" fill="#e58a4e"/>
<path d="M184.27,509.46V504.96M177.27,504.96H191.27M184.27,509.46V511.71M177.27,511.71H191.27" stroke="#e58a4e" stroke-width="2.4" fill="none"/>
<rect x="181.27" y="507.46" width="6" height="4" fill="#e58a4e"/>
<path d="M213.72,501.59V497.09M206.72,497.09H220.72M213.72,501.59V506.09M206.72,506.09H220.72" stroke="#e58a4e" stroke-width="2.4" fill="none"/>
<rect x="210.72" y="499.59" width="6" height="4" fill="#e58a4e"/>
<path d="M272.63,500.46V498.22M265.63,498.22H279.63M272.63,500.46V502.71M265.63,502.71H279.63" stroke="#e58a4e" stroke-width="2.4" fill="none"/>
<rect x="269.63" y="498.46" width="6" height="4" fill="#e58a4e"/>
<path d="M361.00,500.46V497.09M354.00,497.09H368.00M361.00,500.46V502.71M354.00,502.71H368.00" stroke="#e58a4e" stroke-width="2.4" fill="none"/>
<rect x="358.00" y="498.46" width="6" height="4" fill="#e58a4e"/>
<path d="M154.81,533.08V530.83M147.81,530.83H161.81" stroke="#8a6ee2" stroke-width="2.4" fill="none"/>
<rect x="151.81" y="531.08" width="6" height="4" fill="#8a6ee2"/>
<path d="M184.27,517.33V515.08M177.27,515.08H191.27M184.27,517.33V519.58M177.27,519.58H191.27" stroke="#8a6ee2" stroke-width="2.4" fill="none"/>
<rect x="181.27" y="515.33" width="6" height="4" fill="#8a6ee2"/>
<path d="M213.72,508.34V506.54M206.72,506.54H220.72M213.72,508.34V510.14M206.72,510.14H220.72" stroke="#8a6ee2" stroke-width="2.4" fill="none"/>
<rect x="210.72" y="506.34" width="6" height="4" fill="#8a6ee2"/>
<path d="M272.63,500.46V494.84M265.63,494.84H279.63M272.63,500.46V501.59M265.63,501.59H279.63" stroke="#8a6ee2" stroke-width="2.4" fill="none"/>
<rect x="269.63" y="498.46" width="6" height="4" fill="#8a6ee2"/>
<path d="M361.00,499.34V497.09M354.00,497.09H368.00M361.00,499.34V501.59M354.00,501.59H368.00" stroke="#8a6ee2" stroke-width="2.4" fill="none"/>
<rect x="358.00" y="497.34" width="6" height="4" fill="#8a6ee2"/>
<path d="M154.81,528.58V521.83M147.81,521.83H161.81" stroke="#f0b832" stroke-width="2.4" fill="none"/>
<rect x="151.81" y="526.58" width="6" height="4" fill="#f0b832"/>
<path d="M184.27,508.34V504.96M177.27,504.96H191.27M184.27,508.34V510.59M177.27,510.59H191.27" stroke="#f0b832" stroke-width="2.4" fill="none"/>
<rect x="181.27" y="506.34" width="6" height="4" fill="#f0b832"/>
<path d="M213.72,503.84V501.59M206.72,501.59H220.72M213.72,503.84V506.09M206.72,506.09H220.72" stroke="#f0b832" stroke-width="2.4" fill="none"/>
<rect x="210.72" y="501.84" width="6" height="4" fill="#f0b832"/>
<path d="M272.63,501.59V499.79M265.63,499.79H279.63M272.63,501.59V503.39M265.63,503.39H279.63" stroke="#f0b832" stroke-width="2.4" fill="none"/>
<rect x="269.63" y="499.59" width="6" height="4" fill="#f0b832"/>
<path d="M361.00,500.69V498.89M354.00,498.89H368.00M361.00,500.69V502.49M354.00,502.49H368.00" stroke="#f0b832" stroke-width="2.4" fill="none"/>
<rect x="358.00" y="498.69" width="6" height="4" fill="#f0b832"/>
<rect x="92.40" y="717.50" width="7.5" height="7" fill="#8a7436" opacity="0.75"/>
<line x1="95.90" y1="473.80" x2="95.90" y2="722.80" stroke="#2b2b2b" stroke-width="1.8"/>
<line x1="95.10" y1="722.00" x2="361.80" y2="722.00" stroke="#2b2b2b" stroke-width="1.8"/>
<path d="M83.90,722.00H95.90M89.90,717.50H95.90M89.90,713.00H95.90M89.90,708.51H95.90M89.90,704.01H95.90M83.90,699.51H95.90M89.90,695.01H95.90M89.90,690.51H95.90M89.90,686.01H95.90M89.90,681.52H95.90M83.90,677.02H95.90M89.90,672.52H95.90M89.90,668.02H95.90M89.90,663.52H95.90M89.90,659.03H95.90M83.90,654.53H95.90M89.90,650.03H95.90M89.90,645.53H95.90M89.90,641.03H95.90M89.90,636.53H95.90M83.90,632.04H95.90M89.90,627.54H95.90M89.90,623.04H95.90M89.90,618.54H95.90M89.90,614.04H95.90M83.90,609.55H95.90M89.90,605.05H95.90M89.90,600.55H95.90M89.90,596.05H95.90M89.90,591.55H95.90M83.90,587.05H95.90M89.90,582.56H95.90M89.90,578.06H95.90M89.90,573.56H95.90M89.90,569.06H95.90M83.90,564.56H95.90M89.90,560.07H95.90M89.90,555.57H95.90M89.90,551.07H95.90M89.90,546.57H95.90M83.90,542.07H95.90M89.90,537.57H95.90M89.90,533.08H95.90M89.90,528.58H95.90M89.90,524.08H95.90M83.90,519.58H95.90M89.90,515.08H95.90M89.90,510.59H95.90M89.90,506.09H95.90M89.90,501.59H95.90M83.90,497.09H95.90M89.90,492.59H95.90M89.90,488.09H95.90M89.90,483.60H95.90M89.90,479.10H95.90M83.90,474.60H95.90M95.90,722.00V734.30M101.79,722.00V728.50M107.68,722.00V728.50M113.57,722.00V728.50M119.46,722.00V728.50M125.36,722.00V734.30M131.25,722.00V728.50M137.14,722.00V728.50M143.03,722.00V728.50M148.92,722.00V728.50M154.81,722.00V734.30M160.70,722.00V728.50M166.59,722.00V728.50M172.48,722.00V728.50M178.38,722.00V728.50M184.27,722.00V734.30M190.16,722.00V728.50M196.05,722.00V728.50M201.94,722.00V728.50M207.83,722.00V728.50M213.72,722.00V734.30M219.61,722.00V728.50M225.50,722.00V728.50M231.40,722.00V728.50M237.29,722.00V728.50M243.18,722.00V734.30M249.07,722.00V728.50M254.96,722.00V728.50M260.85,722.00V728.50M266.74,722.00V728.50M272.63,722.00V734.30M278.52,722.00V728.50M284.42,722.00V728.50M290.31,722.00V728.50M296.20,722.00V728.50M302.09,722.00V734.30M307.98,722.00V728.50M313.87,722.00V728.50M319.76,722.00V728.50M325.65,722.00V728.50M331.54,722.00V734.30M337.44,722.00V728.50M343.33,722.00V728.50M349.22,722.00V728.50M355.11,722.00V728.50M361.00,722.00V734.30" stroke="#3a3a3a" stroke-width="1.3" fill="none"/>
<text x="81.10" y="725.00" text-anchor="end" font-size="10.5" letter-spacing="0.5" fill="#555555">0</text>
<text x="81.10" y="702.51" text-anchor="end" font-size="10.5" letter-spacing="0.5" fill="#555555">10</text>
<text x="81.10" y="680.02" text-anchor="end" font-size="10.5" letter-spacing="0.5" fill="#555555">20</text>
<text x="81.10" y="657.53" text-anchor="end" font-size="10.5" letter-spacing="0.5" fill="#555555">30</text>
<text x="81.10" y="635.04" text-anchor="end" font-size="10.5" letter-spacing="0.5" fill="#555555">40</text>
<text x="81.10" y="612.55" text-anchor="end" font-size="10.5" letter-spacing="0.5" fill="#555555">50</text>
<text x="81.10" y="590.05" text-anchor="end" font-size="10.5" letter-spacing="0.5" fill="#555555">60</text>
<text x="81.10" y="567.56" text-anchor="end" font-size="10.5" letter-spacing="0.5" fill="#555555">70</text>
<text x="81.10" y="545.07" text-anchor="end" font-size="10.5" letter-spacing="0.5" fill="#555555">80</text>
<text x="81.10" y="522.58" text-anchor="end" font-size="10.5" letter-spacing="0.5" fill="#555555">90</text>
<text x="81.10" y="500.09" text-anchor="end" font-size="10.5" letter-spacing="0.5" fill="#555555">100</text>
<text x="81.10" y="477.60" text-anchor="end" font-size="10.5" letter-spacing="0.5" fill="#555555">110</text>
<text x="96.15" y="747.00" text-anchor="middle" font-size="10.5" letter-spacing="0.5" fill="#555555">0</text>
<text x="125.61" y="747.00" text-anchor="middle" font-size="10.5" letter-spacing="0.5" fill="#555555">5</text>
<text x="155.06" y="747.00" text-anchor="middle" font-size="10.5" letter-spacing="0.5" fill="#555555">10</text>
<text x="184.52" y="747.00" text-anchor="middle" font-size="10.5" letter-spacing="0.5" fill="#555555">15</text>
<text x="213.97" y="747.00" text-anchor="middle" font-size="10.5" letter-spacing="0.5" fill="#555555">20</text>
<text x="243.43" y="747.00" text-anchor="middle" font-size="10.5" letter-spacing="0.5" fill="#555555">25</text>
<text x="272.88" y="747.00" text-anchor="middle" font-size="10.5" letter-spacing="0.5" fill="#555555">30</text>
<text x="302.34" y="747.00" text-anchor="middle" font-size="10.5" letter-spacing="0.5" fill="#555555">35</text>
<text x="331.79" y="747.00" text-anchor="middle" font-size="10.5" letter-spacing="0.5" fill="#555555">40</text>
<text x="361.25" y="747.00" text-anchor="middle" font-size="10.5" letter-spacing="0.5" fill="#555555">45</text>
<text transform="translate(50.60,594.90) rotate(-90)" text-anchor="middle" font-size="11.1" fill="#686868">Mean Dissolution (%)</text>
<text x="228.80" y="771.40" text-anchor="middle" font-size="11" fill="#686868">Time (min)</text>
<text transform="translate(179.00,717.40) rotate(-90)" font-size="10.9" stroke="#2a2a2a" stroke-width="0.35" fill="#2e2e2e">15 minutes</text>
<line x1="394.70" y1="585.70" x2="416.60" y2="585.70" stroke="#548a3e" stroke-width="3.2"/>
<line x1="405.65" y1="582.70" x2="405.65" y2="588.70" stroke="#548a3e" stroke-width="1.2"/>
<text x="421.80" y="589.50" font-size="10.4" fill="#3c3c3c" stroke="#3c3c3c" stroke-width="0.2">T2,</text>
<line x1="394.70" y1="602.70" x2="408.28" y2="602.70" stroke="#b09ae6" stroke-width="3"/>
<path d="M403.75,602.70L406.75,599.70L409.75,602.70L406.75,605.70Z" fill="#b09ae6"/>
<line x1="410.91" y1="602.70" x2="414.41" y2="602.70" stroke="#b09ae6" stroke-width="3"/>
<text x="421.80" y="606.50" font-size="10.4" fill="#3c3c3c" stroke="#3c3c3c" stroke-width="0.2">T2,</text>
<line x1="394.70" y1="619.70" x2="408.28" y2="619.70" stroke="#a8e05a" stroke-width="3"/>
<path d="M403.75,619.70L406.75,616.70L409.75,619.70L406.75,622.70Z" fill="#a8e05a"/>
<line x1="410.91" y1="619.70" x2="416.60" y2="619.70" stroke="#a8e05a" stroke-width="3"/>
<text x="421.80" y="623.50" font-size="10.4" fill="#3c3c3c" stroke="#3c3c3c" stroke-width="0.2">T3,</text>
<circle cx="396.01" cy="636.70" r="1.4" fill="#e58a4e"/>
<circle cx="413.53" cy="636.70" r="1.4" fill="#e58a4e"/>
<ellipse cx="406.75" cy="636.70" rx="4.3" ry="3.4" fill="#f6b088" stroke="#e58a4e" stroke-width="1.6"/>
<circle cx="406.75" cy="636.70" r="1.5" fill="#e0652a"/>
<text x="421.80" y="640.50" font-size="10.4" fill="#3c3c3c" stroke="#3c3c3c" stroke-width="0.2">T3,</text>
<line x1="394.70" y1="653.70" x2="413.97" y2="653.70" stroke="#8a6ee2" stroke-width="2.8"/>
<path d="M403.75,650.20L409.75,653.70L403.75,657.20Z" fill="#8a6ee2" opacity="0.8"/>
<text x="421.80" y="657.50" font-size="10.4" fill="#3c3c3c" stroke="#3c3c3c" stroke-width="0.2">T4,</text>
<line x1="394.70" y1="670.70" x2="416.60" y2="670.70" stroke="#f0b832" stroke-width="3.8"/>
<text x="421.80" y="674.50" font-size="10.4" fill="#3c3c3c" stroke="#3c3c3c" stroke-width="0.2">T4,</text>
</g>
<g>
<line x1="636.77" y1="471.20" x2="636.77" y2="719.30" stroke="#222" stroke-width="1.3" stroke-dasharray="1.5,1.5"/>
<polyline points="548.90,719.30 607.48,534.35 636.77,517.44 666.06,511.80 724.63,506.16 812.50,503.90" fill="none" stroke="#548a3e" stroke-width="2.6" stroke-linejoin="round"/>
<polyline points="548.90,719.30 607.48,523.08 636.77,509.54 666.06,503.90 724.63,500.52 812.50,497.14" fill="none" stroke="#b09ae6" stroke-width="2.6" stroke-dasharray="5,2,1.5,2" stroke-linejoin="round"/>
<polyline points="548.90,719.30 607.48,537.06 636.77,519.69 666.06,512.93 724.63,508.41 812.50,505.71" fill="none" stroke="#a8e05a" stroke-width="2.6" stroke-dasharray="5,2.5" stroke-linejoin="round"/>
<polyline points="548.90,719.30 607.48,525.33 636.77,507.29 666.06,503.90 724.63,500.52 812.50,499.39" fill="none" stroke="#e58a4e" stroke-width="2.6" stroke-dasharray="1.5,2" stroke-linejoin="round"/>
<polyline points="548.90,719.30 607.48,517.89 636.77,507.06 666.06,501.65 724.63,498.72 812.50,494.43" fill="none" stroke="#8a6ee2" stroke-width="2.6" stroke-dasharray="5,2" stroke-linejoin="round"/>
<polyline points="548.90,719.30 607.48,529.84 636.77,511.80 666.06,506.16 724.63,502.78 812.50,500.97" fill="none" stroke="#f0b832" stroke-width="4.3" stroke-linejoin="round"/>
<line x1="548.90" y1="719.30" x2="607.48" y2="537.06" stroke="#a8e05a" stroke-width="2.4" opacity="0.45"/>
<line x1="548.90" y1="719.30" x2="607.48" y2="534.35" stroke="#548a3e" stroke-width="1.8" opacity="0.5"/>
<path d="M607.48,534.35V523.08M600.48,523.08H614.48" stroke="#548a3e" stroke-width="2.4" fill="none"/>
<rect x="604.48" y="532.35" width="6" height="4" fill="#548a3e"/>
<path d="M636.77,517.44V514.05M629.77,514.05H643.77M636.77,517.44V519.69M629.77,519.69H643.77" stroke="#548a3e" stroke-width="2.4" fill="none"/>
<rect x="633.77" y="515.44" width="6" height="4" fill="#548a3e"/>
<path d="M666.06,511.80V509.54M659.06,509.54H673.06M666.06,511.80V514.05M659.06,514.05H673.06" stroke="#548a3e" stroke-width="2.4" fill="none"/>
<rect x="663.06" y="509.80" width="6" height="4" fill="#548a3e"/>
<path d="M724.63,506.16V503.90M717.63,503.90H731.63M724.63,506.16V508.41M717.63,508.41H731.63" stroke="#548a3e" stroke-width="2.4" fill="none"/>
<rect x="721.63" y="504.16" width="6" height="4" fill="#548a3e"/>
<path d="M812.50,503.90V501.65M805.50,501.65H819.50M812.50,503.90V506.16M805.50,506.16H819.50" stroke="#548a3e" stroke-width="2.4" fill="none"/>
<rect x="809.50" y="501.90" width="6" height="4" fill="#548a3e"/>
<path d="M607.48,523.08V518.56M600.48,518.56H614.48" stroke="#b09ae6" stroke-width="2.4" fill="none"/>
<rect x="604.48" y="521.08" width="6" height="4" fill="#b09ae6"/>
<path d="M636.77,509.54V507.29M629.77,507.29H643.77M636.77,509.54V511.80M629.77,511.80H643.77" stroke="#b09ae6" stroke-width="2.4" fill="none"/>
<rect x="633.77" y="507.54" width="6" height="4" fill="#b09ae6"/>
<path d="M666.06,503.90V501.65M659.06,501.65H673.06M666.06,503.90V506.16M659.06,506.16H673.06" stroke="#b09ae6" stroke-width="2.4" fill="none"/>
<rect x="663.06" y="501.90" width="6" height="4" fill="#b09ae6"/>
<path d="M724.63,500.52V498.27M717.63,498.27H731.63M724.63,500.52V502.78M717.63,502.78H731.63" stroke="#b09ae6" stroke-width="2.4" fill="none"/>
<rect x="721.63" y="498.52" width="6" height="4" fill="#b09ae6"/>
<path d="M812.50,497.14V494.88M805.50,494.88H819.50M812.50,497.14V499.39M805.50,499.39H819.50" stroke="#b09ae6" stroke-width="2.4" fill="none"/>
<rect x="809.50" y="495.14" width="6" height="4" fill="#b09ae6"/>
<path d="M607.48,537.06V534.80M600.48,534.80H614.48" stroke="#a8e05a" stroke-width="2.4" fill="none"/>
<rect x="604.48" y="535.06" width="6" height="4" fill="#a8e05a"/>
<path d="M636.77,519.69V517.44M629.77,517.44H643.77M636.77,519.69V521.95M629.77,521.95H643.77" stroke="#a8e05a" stroke-width="2.4" fill="none"/>
<rect x="633.77" y="517.69" width="6" height="4" fill="#a8e05a"/>
<path d="M666.06,512.93V511.12M659.06,511.12H673.06M666.06,512.93V514.73M659.06,514.73H673.06" stroke="#a8e05a" stroke-width="2.4" fill="none"/>
<rect x="663.06" y="510.93" width="6" height="4" fill="#a8e05a"/>
<path d="M724.63,508.41V506.61M717.63,506.61H731.63M724.63,508.41V510.22M717.63,510.22H731.63" stroke="#a8e05a" stroke-width="2.4" fill="none"/>
<rect x="721.63" y="506.41" width="6" height="4" fill="#a8e05a"/>
<path d="M812.50,505.71V503.90M805.50,503.90H819.50M812.50,505.71V507.51M805.50,507.51H819.50" stroke="#a8e05a" stroke-width="2.4" fill="none"/>
<rect x="809.50" y="503.71" width="6" height="4" fill="#a8e05a"/>
<path d="M607.48,525.33V510.22M600.48,510.22H614.48M607.48,525.33V530.29M600.48,530.29H614.48" stroke="#e58a4e" stroke-width="2.4" fill="none"/>
<rect x="604.48" y="523.33" width="6" height="4" fill="#e58a4e"/>
<path d="M636.77,507.29V500.52M629.77,500.52H643.77M636.77,507.29V509.54M629.77,509.54H643.77" stroke="#e58a4e" stroke-width="2.4" fill="none"/>
<rect x="633.77" y="505.29" width="6" height="4" fill="#e58a4e"/>
<path d="M666.06,503.90V498.27M659.06,498.27H673.06M666.06,503.90V506.16M659.06,506.16H673.06" stroke="#e58a4e" stroke-width="2.4" fill="none"/>
<rect x="663.06" y="501.90" width="6" height="4" fill="#e58a4e"/>
<path d="M724.63,500.52V494.88M717.63,494.88H731.63M724.63,500.52V503.90M717.63,503.90H731.63" stroke="#e58a4e" stroke-width="2.4" fill="none"/>
<rect x="721.63" y="498.52" width="6" height="4" fill="#e58a4e"/>
<path d="M812.50,499.39V492.63M805.50,492.63H819.50M812.50,499.39V502.78M805.50,502.78H819.50" stroke="#e58a4e" stroke-width="2.4" fill="none"/>
<rect x="809.50" y="497.39" width="6" height="4" fill="#e58a4e"/>
<path d="M607.48,517.89V510.22M600.48,510.22H614.48M607.48,517.89V526.01M600.48,526.01H614.48" stroke="#8a6ee2" stroke-width="2.4" fill="none"/>
<rect x="604.48" y="515.89" width="6" height="4" fill="#8a6ee2"/>
<path d="M636.77,507.06V500.30M629.77,500.30H643.77" stroke="#8a6ee2" stroke-width="2.4" fill="none"/>
<rect x="633.77" y="505.06" width="6" height="4" fill="#8a6ee2"/>
<path d="M666.06,501.65V498.04M659.06,498.04H673.06" stroke="#8a6ee2" stroke-width="2.4" fill="none"/>
<rect x="663.06" y="499.65" width="6" height="4" fill="#8a6ee2"/>
<path d="M724.63,498.72V494.43M717.63,494.43H731.63" stroke="#8a6ee2" stroke-width="2.4" fill="none"/>
<rect x="721.63" y="496.72" width="6" height="4" fill="#8a6ee2"/>
<path d="M812.50,494.43V491.05M805.50,491.05H819.50" stroke="#8a6ee2" stroke-width="2.4" fill="none"/>
<rect x="809.50" y="492.43" width="6" height="4" fill="#8a6ee2"/>
<path d="M607.48,529.84V523.08M600.48,523.08H614.48" stroke="#f0b832" stroke-width="2.4" fill="none"/>
<rect x="604.48" y="527.84" width="6" height="4" fill="#f0b832"/>
<path d="M636.77,511.80V507.29M629.77,507.29H643.77M636.77,511.80V514.05M629.77,514.05H643.77" stroke="#f0b832" stroke-width="2.4" fill="none"/>
<rect x="633.77" y="509.80" width="6" height="4" fill="#f0b832"/>
<path d="M666.06,506.16V503.45M659.06,503.45H673.06M666.06,506.16V508.87M659.06,508.87H673.06" stroke="#f0b832" stroke-width="2.4" fill="none"/>
<rect x="663.06" y="504.16" width="6" height="4" fill="#f0b832"/>
<path d="M724.63,502.78V500.07M717.63,500.07H731.63M724.63,502.78V505.48M717.63,505.48H731.63" stroke="#f0b832" stroke-width="2.4" fill="none"/>
<rect x="721.63" y="500.78" width="6" height="4" fill="#f0b832"/>
<path d="M812.50,500.97V498.27M805.50,498.27H819.50M812.50,500.97V503.68M805.50,503.68H819.50" stroke="#f0b832" stroke-width="2.4" fill="none"/>
<rect x="809.50" y="498.97" width="6" height="4" fill="#f0b832"/>
<rect x="545.40" y="714.80" width="7.5" height="7" fill="#8a7436" opacity="0.75"/>
<line x1="548.90" y1="470.40" x2="548.90" y2="720.10" stroke="#2b2b2b" stroke-width="1.8"/>
<line x1="548.10" y1="719.30" x2="813.30" y2="719.30" stroke="#2b2b2b" stroke-width="1.8"/>
<path d="M536.90,719.30H548.90M542.90,714.79H548.90M542.90,710.28H548.90M542.90,705.77H548.90M542.90,701.26H548.90M536.90,696.75H548.90M542.90,692.23H548.90M542.90,687.72H548.90M542.90,683.21H548.90M542.90,678.70H548.90M536.90,674.19H548.90M542.90,669.68H548.90M542.90,665.17H548.90M542.90,660.66H548.90M542.90,656.15H548.90M536.90,651.64H548.90M542.90,647.13H548.90M542.90,642.61H548.90M542.90,638.10H548.90M542.90,633.59H548.90M536.90,629.08H548.90M542.90,624.57H548.90M542.90,620.06H548.90M542.90,615.55H548.90M542.90,611.04H548.90M536.90,606.53H548.90M542.90,602.02H548.90M542.90,597.51H548.90M542.90,592.99H548.90M542.90,588.48H548.90M536.90,583.97H548.90M542.90,579.46H548.90M542.90,574.95H548.90M542.90,570.44H548.90M542.90,565.93H548.90M536.90,561.42H548.90M542.90,556.91H548.90M542.90,552.40H548.90M542.90,547.89H548.90M542.90,543.37H548.90M536.90,538.86H548.90M542.90,534.35H548.90M542.90,529.84H548.90M542.90,525.33H548.90M542.90,520.82H548.90M536.90,516.31H548.90M542.90,511.80H548.90M542.90,507.29H548.90M542.90,502.78H548.90M542.90,498.27H548.90M536.90,493.75H548.90M542.90,489.24H548.90M542.90,484.73H548.90M542.90,480.22H548.90M542.90,475.71H548.90M536.90,471.20H548.90M548.90,719.30V731.60M554.76,719.30V725.80M560.62,719.30V725.80M566.47,719.30V725.80M572.33,719.30V725.80M578.19,719.30V731.60M584.05,719.30V725.80M589.90,719.30V725.80M595.76,719.30V725.80M601.62,719.30V725.80M607.48,719.30V731.60M613.34,719.30V725.80M619.19,719.30V725.80M625.05,719.30V725.80M630.91,719.30V725.80M636.77,719.30V731.60M642.62,719.30V725.80M648.48,719.30V725.80M654.34,719.30V725.80M660.20,719.30V725.80M666.06,719.30V731.60M671.91,719.30V725.80M677.77,719.30V725.80M683.63,719.30V725.80M689.49,719.30V725.80M695.34,719.30V731.60M701.20,719.30V725.80M707.06,719.30V725.80M712.92,719.30V725.80M718.78,719.30V725.80M724.63,719.30V731.60M730.49,719.30V725.80M736.35,719.30V725.80M742.21,719.30V725.80M748.06,719.30V725.80M753.92,719.30V731.60M759.78,719.30V725.80M765.64,719.30V725.80M771.50,719.30V725.80M777.35,719.30V725.80M783.21,719.30V731.60M789.07,719.30V725.80M794.93,719.30V725.80M800.78,719.30V725.80M806.64,719.30V725.80M812.50,719.30V731.60" stroke="#3a3a3a" stroke-width="1.3" fill="none"/>
<text x="534.10" y="722.30" text-anchor="end" font-size="10.5" letter-spacing="0.5" fill="#555555">0</text>
<text x="534.10" y="699.75" text-anchor="end" font-size="10.5" letter-spacing="0.5" fill="#555555">10</text>
<text x="534.10" y="677.19" text-anchor="end" font-size="10.5" letter-spacing="0.5" fill="#555555">20</text>
<text x="534.10" y="654.64" text-anchor="end" font-size="10.5" letter-spacing="0.5" fill="#555555">30</text>
<text x="534.10" y="632.08" text-anchor="end" font-size="10.5" letter-spacing="0.5" fill="#555555">40</text>
<text x="534.10" y="609.53" text-anchor="end" font-size="10.5" letter-spacing="0.5" fill="#555555">50</text>
<text x="534.10" y="586.97" text-anchor="end" font-size="10.5" letter-spacing="0.5" fill="#555555">60</text>
<text x="534.10" y="564.42" text-anchor="end" font-size="10.5" letter-spacing="0.5" fill="#555555">70</text>
<text x="534.10" y="541.86" text-anchor="end" font-size="10.5" letter-spacing="0.5" fill="#555555">80</text>
<text x="534.10" y="519.31" text-anchor="end" font-size="10.5" letter-spacing="0.5" fill="#555555">90</text>
<text x="534.10" y="496.75" text-anchor="end" font-size="10.5" letter-spacing="0.5" fill="#555555">100</text>
<text x="534.10" y="474.20" text-anchor="end" font-size="10.5" letter-spacing="0.5" fill="#555555">110</text>
<text x="549.15" y="744.30" text-anchor="middle" font-size="10.5" letter-spacing="0.5" fill="#555555">0</text>
<text x="578.44" y="744.30" text-anchor="middle" font-size="10.5" letter-spacing="0.5" fill="#555555">5</text>
<text x="607.73" y="744.30" text-anchor="middle" font-size="10.5" letter-spacing="0.5" fill="#555555">10</text>
<text x="637.02" y="744.30" text-anchor="middle" font-size="10.5" letter-spacing="0.5" fill="#555555">15</text>
<text x="666.31" y="744.30" text-anchor="middle" font-size="10.5" letter-spacing="0.5" fill="#555555">20</text>
<text x="695.59" y="744.30" text-anchor="middle" font-size="10.5" letter-spacing="0.5" fill="#555555">25</text>
<text x="724.88" y="744.30" text-anchor="middle" font-size="10.5" letter-spacing="0.5" fill="#555555">30</text>
<text x="754.17" y="744.30" text-anchor="middle" font-size="10.5" letter-spacing="0.5" fill="#555555">35</text>
<text x="783.46" y="744.30" text-anchor="middle" font-size="10.5" letter-spacing="0.5" fill="#555555">40</text>
<text x="812.75" y="744.30" text-anchor="middle" font-size="10.5" letter-spacing="0.5" fill="#555555">45</text>
<text transform="translate(501.80,586.40) rotate(-90)" text-anchor="middle" font-size="10.7" fill="#686868">Mean Dissolution (%)</text>
<text x="680.30" y="767.60" text-anchor="middle" font-size="11" fill="#686868">Time (min)</text>
<text transform="translate(630.90,713.40) rotate(-90)" font-size="10.8" stroke="#2a2a2a" stroke-width="0.35" fill="#2e2e2e">15 minutes</text>
<line x1="847.40" y1="582.60" x2="869.40" y2="582.60" stroke="#548a3e" stroke-width="3.2"/>
<line x1="858.40" y1="579.60" x2="858.40" y2="585.60" stroke="#548a3e" stroke-width="1.2"/>
<text x="874.90" y="586.40" font-size="10.4" fill="#3c3c3c" stroke="#3c3c3c" stroke-width="0.2">T2,</text>
<line x1="847.40" y1="599.50" x2="861.04" y2="599.50" stroke="#b09ae6" stroke-width="3"/>
<path d="M856.50,599.50L859.50,596.50L862.50,599.50L859.50,602.50Z" fill="#b09ae6"/>
<line x1="863.68" y1="599.50" x2="867.20" y2="599.50" stroke="#b09ae6" stroke-width="3"/>
<text x="874.90" y="603.30" font-size="10.4" fill="#3c3c3c" stroke="#3c3c3c" stroke-width="0.2">T2,</text>
<line x1="847.40" y1="616.40" x2="861.04" y2="616.40" stroke="#a8e05a" stroke-width="3"/>
<path d="M856.50,616.40L859.50,613.40L862.50,616.40L859.50,619.40Z" fill="#a8e05a"/>
<line x1="863.68" y1="616.40" x2="869.40" y2="616.40" stroke="#a8e05a" stroke-width="3"/>
<text x="874.90" y="620.20" font-size="10.4" fill="#3c3c3c" stroke="#3c3c3c" stroke-width="0.2">T3,</text>
<circle cx="848.72" cy="633.30" r="1.4" fill="#e58a4e"/>
<circle cx="866.32" cy="633.30" r="1.4" fill="#e58a4e"/>
<ellipse cx="859.50" cy="633.30" rx="4.3" ry="3.4" fill="#f6b088" stroke="#e58a4e" stroke-width="1.6"/>
<circle cx="859.50" cy="633.30" r="1.5" fill="#e0652a"/>
<text x="874.90" y="637.10" font-size="10.4" fill="#3c3c3c" stroke="#3c3c3c" stroke-width="0.2">T3,</text>
<line x1="847.40" y1="650.20" x2="866.76" y2="650.20" stroke="#8a6ee2" stroke-width="2.8"/>
<path d="M856.50,646.70L862.50,650.20L856.50,653.70Z" fill="#8a6ee2" opacity="0.8"/>
<text x="874.90" y="654.00" font-size="10.4" fill="#3c3c3c" stroke="#3c3c3c" stroke-width="0.2">T4,</text>
<line x1="847.40" y1="667.10" x2="869.40" y2="667.10" stroke="#f0b832" stroke-width="3.8"/>
<text x="874.90" y="670.90" font-size="10.4" fill="#3c3c3c" stroke="#3c3c3c" stroke-width="0.2">T4,</text>
</g>
<rect x="247.4" y="71.4" width="45.10" height="22.20" fill="#c0c0c0"/>
<rect x="248" y="95.4" width="37.50" height="7.20" fill="#c0c0c0"/>
<text x="220.0" y="89.5" font-size="13.5" fill="#4a4a4a" stroke="#4a4a4a" stroke-width="0.3">pH</text>
<text x="240.2" y="89.5" font-size="11" fill="#4a4a4a">=</text>
<text x="265.0" y="78.7" font-size="9.8" font-weight="bold" fill="#222">(b) (4)</text>
<rect x="695" y="73.2" width="51.10" height="22.20" fill="#c0c0c0"/>
<text x="670.0" y="90.6" font-size="13.5" fill="#4a4a4a" stroke="#4a4a4a" stroke-width="0.3">pH</text>
<text x="689.6" y="90.6" font-size="11" fill="#4a4a4a">=</text>
<text x="711.0" y="82.6" font-size="9.8" font-weight="bold" fill="#222">(b) (4)</text>
<rect x="247.4" y="425.4" width="47.50" height="27.00" fill="#c0c0c0"/>
<text x="219.4" y="446.4" font-size="13.5" fill="#4a4a4a" stroke="#4a4a4a" stroke-width="0.3">pH</text>
<text x="239.5" y="446.4" font-size="11" fill="#4a4a4a">=</text>
<text x="260.0" y="439.0" font-size="9.8" font-weight="bold" fill="#222">(b) (4)</text>
<text y="443.2" font-size="13.5" fill="#4a4a4a" stroke="#4a4a4a" stroke-width="0.3"><tspan x="665.6">pH</tspan><tspan x="686.4" dy="1.2" font-size="11.5">=</tspan><tspan x="694.9" dy="-1.2">Wed</tspan></text>
<rect x="436.5" y="202" width="24.10" height="132.80" fill="#c0c0c0"/>
<text x="448.0" y="210.2" font-size="9.8" font-weight="bold" fill="#222">(b)</text>
<text x="448.0" y="221.4" font-size="9.8" font-weight="bold" fill="#222">(4)</text>
<rect x="881.4" y="202.8" width="30.20" height="131.80" fill="#c0c0c0"/>
<text x="883.0" y="211.3" font-size="9.8" font-weight="bold" fill="#222">(b) (4)</text>
<rect x="455" y="572.9" width="11.40" height="105.30" fill="#c0c0c0"/>
<rect x="435.9" y="564.7" width="25.60" height="121.70" fill="#c0c0c0"/>
<text x="448.5" y="572.7" font-size="9.8" font-weight="bold" fill="#222">(b)</text>
<text x="448.5" y="584.1" font-size="9.8" font-weight="bold" fill="#222">(4)</text>
<rect x="889.5" y="564.7" width="22.00" height="121.70" fill="#c0c0c0"/>
<text x="899.4" y="572.7" font-size="9.8" font-weight="bold" fill="#222">(b)</text>
<text x="899.4" y="585.5" font-size="9.8" font-weight="bold" fill="#222">(4)</text>
<text x="81" y="801" font-family="'Liberation Serif', 'Times New Roman', serif" font-size="18.5" letter-spacing="0.5" fill="#383838" stroke="#383838" stroke-width="0.2">Abbreviations: Wed = Water (Japanese Pharmacopoeia 16th Edition Purified Water)</text>
</g></svg></body></html>
